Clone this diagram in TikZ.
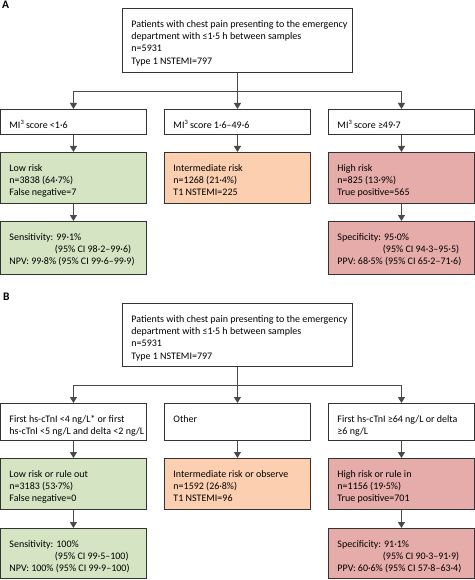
\documentclass[tikz,border=0pt]{standalone}
\usepackage{fontspec}
\setmainfont{Carlito}
\usetikzlibrary{arrows.meta}
\definecolor{gfill}{HTML}{D5E5C4}
\definecolor{ofill}{HTML}{FCCFB0}
\definecolor{rfill}{HTML}{E6ACAA}
\definecolor{edge}{HTML}{333333}
\definecolor{conncol}{HTML}{4A4A4A}
\newcommand{\bx}[3]{\hspace*{9pt}\parbox[c][#2pt][t]{\dimexpr#1pt-9pt\relax}{\vspace*{10pt}\begin{tabular}[t]{@{}l@{}}#3\end{tabular}}}
\newcommand{\mithree}{MI{\fontsize{6.5}{6}\selectfont\raisebox{3.3pt}{3}}}
\newcommand{\ind}{\hspace*{45.5pt}}
\tikzset{
  box/.style={draw=edge, line width=0.9pt, inner sep=0pt, anchor=north west, font=\fontsize{10}{12.4}\selectfont},
  conn/.style={draw=conncol, line width=1pt, -{Triangle[length=6pt,width=7pt]}},
  plabel/.style={anchor=north west, inner sep=0pt, font=\fontsize{11.5}{12}\selectfont\bfseries}
}
\begin{document}
\begin{tikzpicture}[x=1pt,y=-1pt]
\useasboundingbox (0,0) rectangle (474,580);
\fill[white] (0,0) rectangle (474,580);
% ---------- Panel A ----------
\node[plabel] (la) at (2,1) {A};
\node[box, fill=white] (ta) at (122,8) {\bx{230}{64}{Patients with chest pain presenting to the emergency\\department with ≤1·5 h between samples\\n=5931\\Type 1 NSTEMI=797}};
\node[box, fill=white] (a11) at (0,109) {\bx{146}{25}{\mithree{} score <1·6}};
\node[box, fill=white] (a12) at (164,109) {\bx{146}{25}{\mithree{} score 1·6–49·6}};
\node[box, fill=white] (a13) at (328,109) {\bx{146}{25}{\mithree{} score ≥49·7}};
\node[box, fill=gfill] (a21) at (0,152) {\bx{146}{51}{Low risk\\n=3838 (64·7\%)\\False negative=7}};
\node[box, fill=ofill] (a22) at (164,152) {\bx{146}{51}{Intermediate risk\\n=1268 (21·4\%)\\T1 NSTEMI=225}};
\node[box, fill=rfill] (a23) at (328,152) {\bx{146}{51}{High risk\\n=825 (13·9\%)\\True positive=565}};
\node[box, fill=gfill] (a31) at (0,221) {\bx{146}{53}{Sensitivity: 99·1\%\\\ind(95\% CI 98·2–99·6)\\NPV: 99·8\% (95\% CI 99·6–99·9)}};
\node[box, fill=rfill] (a33) at (328,221) {\bx{146}{53}{Specificity: 95·0\%\\\ind(95\% CI 94·3–95·5)\\PPV: 68·5\% (95\% CI 65·2–71·6)}};
\draw[conn] (ta.south) -- ++(0,19) -| (a11.north);
\draw[conn] (ta.south) -- ++(0,19) -| (a13.north);
\draw[conn] (ta.south) -- (a12.north);
\draw[conn] (a11.south) -- (a21.north);
\draw[conn] (a12.south) -- (a22.north);
\draw[conn] (a13.south) -- (a23.north);
\draw[conn] (a21.south) -- (a31.north);
\draw[conn] (a23.south) -- (a33.north);
% ---------- Panel B ----------
\node[plabel] (lb) at (3,293) {B};
\node[box, fill=white] (tb) at (122,303) {\bx{230}{63}{Patients with chest pain presenting to the emergency\\department with ≤1·5 h between samples\\n=5931\\Type 1 NSTEMI=797}};
\node[box, fill=white] (b11) at (0,403) {\bx{146}{37}{First hs-cTnI <4 ng/L* or first\\hs-cTnI <5 ng/L and delta <2 ng/L}};
\node[box, fill=white] (b12) at (164,403) {\bx{146}{37}{Other}};
\node[box, fill=white] (b13) at (328,403) {\bx{146}{37}{First hs-cTnI ≥64 ng/L or delta\\≥6 ng/L}};
\node[box, fill=gfill] (b21) at (0,458) {\bx{146}{51}{Low risk or rule out\\n=3183 (53·7\%)\\False negative=0}};
\node[box, fill=ofill] (b22) at (164,458) {\bx{146}{51}{Intermediate risk or observe\\n=1592 (26·8\%)\\T1 NSTEMI=96}};
\node[box, fill=rfill] (b23) at (328,458) {\bx{146}{51}{High risk or rule in\\n=1156 (19·5\%)\\True positive=701}};
\node[box, fill=gfill] (b31) at (0,528) {\bx{146}{50}{Sensitivity: 100\%\\\ind(95\% CI 99·5–100)\\NPV: 100\% (95\% CI 99·9–100)}};
\node[box, fill=rfill] (b33) at (328,528) {\bx{146}{50}{Specificity: 91·1\%\\\ind(95\% CI 90·3–91·9)\\PPV: 60·6\% (95\% CI 57·8–63·4)}};
\draw[conn] (tb.south) -- ++(0,19) -| (b11.north);
\draw[conn] (tb.south) -- ++(0,19) -| (b13.north);
\draw[conn] (tb.south) -- (b12.north);
\draw[conn] (b11.south) -- (b21.north);
\draw[conn] (b12.south) -- (b22.north);
\draw[conn] (b13.south) -- (b23.north);
\draw[conn] (b21.south) -- (b31.north);
\draw[conn] (b23.south) -- (b33.north);
\end{tikzpicture}
\end{document}
